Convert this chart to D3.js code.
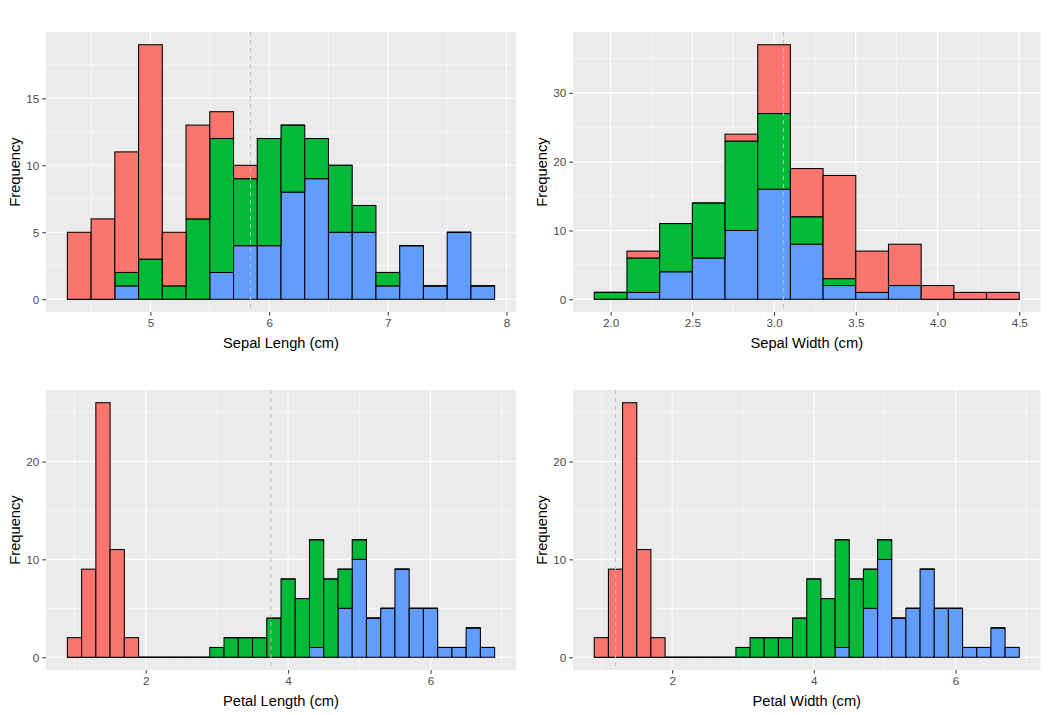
<!DOCTYPE html>
<html>
<head>
<meta charset="utf-8">
<script src="https://cdn.jsdelivr.net/npm/d3@7"></script>
<style>
  body { margin: 0; background: #fff; }
  svg { display: block; font-family: "Liberation Sans", Arial, sans-serif; }
  .tick text { fill: #4d4d4d; font-size: 11.7px; }
  .tick line { stroke: #333; }
</style>
</head>
<body>
<div id="chartArea"></div>
<script>
// species colours (ggplot defaults)
var species = ['setosa', 'versicolor', 'virginica'];
var colors = ['#F8766D', '#00BA38', '#619CFF'];

// sepal length, bin lower edges (width 0.2)
var sepalLengthBins = [4.3, 4.5, 4.7, 4.9, 5.1, 5.3, 5.5, 5.7, 5.9, 6.1, 6.3, 6.5, 6.7, 6.9, 7.1, 7.3, 7.5, 7.7];
var sepalLengthSetosa = [5, 6, 9, 16, 4, 7, 2, 1, 0, 0, 0, 0, 0, 0, 0, 0, 0, 0];
var sepalLengthVersicolor = [0, 0, 1, 3, 1, 6, 10, 5, 8, 5, 3, 5, 2, 1, 0, 0, 0, 0];
var sepalLengthVirginica = [0, 0, 1, 0, 0, 0, 2, 4, 4, 8, 9, 5, 5, 1, 4, 1, 5, 1];
var sepalLengthTicks = [5, 6, 7, 8];
var sepalLengthYTicks = [0, 5, 10, 15];
var sepalLengthMean = 5.843;

// sepal width
var sepalWidthBins = [1.9, 2.1, 2.3, 2.5, 2.7, 2.9, 3.1, 3.3, 3.5, 3.7, 3.9, 4.1, 4.3];
var sepalWidthSetosa = [0, 1, 0, 0, 1, 10, 7, 15, 6, 6, 2, 1, 1];
var sepalWidthVersicolor = [1, 5, 7, 8, 13, 11, 4, 1, 0, 0, 0, 0, 0];
var sepalWidthVirginica = [0, 1, 4, 6, 10, 16, 8, 2, 1, 2, 0, 0, 0];
var sepalWidthTicks = [2.0, 2.5, 3.0, 3.5, 4.0, 4.5];
var sepalWidthYTicks = [0, 10, 20, 30];
var sepalWidthMean = 3.057;

// petal length (the petal width panel shows the same bars)
var petalBins = [0.9, 1.1, 1.3, 1.5, 1.7, 1.9, 2.1, 2.3, 2.5, 2.7, 2.9, 3.1, 3.3, 3.5, 3.7,
                 3.9, 4.1, 4.3, 4.5, 4.7, 4.9, 5.1, 5.3, 5.5, 5.7, 5.9, 6.1, 6.3, 6.5, 6.7];
var petalSetosa = [2, 9, 26, 11, 2, 0, 0, 0, 0, 0, 0, 0, 0, 0, 0,
                   0, 0, 0, 0, 0, 0, 0, 0, 0, 0, 0, 0, 0, 0, 0];
var petalVersicolor = [0, 0, 0, 0, 0, 0, 0, 0, 0, 0, 1, 2, 2, 2, 4,
                       8, 6, 11, 8, 4, 2, 0, 0, 0, 0, 0, 0, 0, 0, 0];
var petalVirginica = [0, 0, 0, 0, 0, 0, 0, 0, 0, 0, 0, 0, 0, 0, 0,
                      0, 0, 1, 0, 5, 10, 4, 5, 9, 5, 5, 1, 1, 3, 1];
var petalTicks = [2, 4, 6];
var petalYTicks = [0, 10, 20];
var petalLengthMean = 3.758;
var petalWidthMean = 1.199;

var binWidth = 0.2;

var W = 1053, H = 715;
var svg = d3.select('#chartArea').append('svg')
    .attr('width', W)
    .attr('height', H);

function drawPanel(p) {
    var left = p.box[0], top = p.box[1], w = p.box[2], h = p.box[3];
    var g = svg.append('g')
        .attr('transform', 'translate(' + left + ', ' + top + ')');

    var lo = p.bins[0], hi = p.bins[p.bins.length - 1] + binWidth;
    var padX = (hi - lo) * 0.05;
    var xScale = d3.scaleLinear().domain([lo - padX, hi + padX]).range([0, w]);

    // stacked counts: virginica at bottom, setosa on top
    var rows = p.bins.map(function (b, i) {
        return { x0: b, setosa: p.counts[0][i], versicolor: p.counts[1][i], virginica: p.counts[2][i] };
    });
    var stack = d3.stack().keys(['virginica', 'versicolor', 'setosa'])(rows);
    var maxY = d3.max(rows, function (d) { return d.setosa + d.versicolor + d.virginica; });
    var yScale = d3.scaleLinear().domain([-maxY * 0.05, maxY * 1.05]).range([h, 0]);

    g.append('rect')
        .attr('width', w).attr('height', h)
        .attr('fill', '#ebebeb');

    // minor grid
    var xd = xScale.domain(), yd = yScale.domain();
    var xStep = p.xTicks[1] - p.xTicks[0], yStep = p.yTicks[1] - p.yTicks[0];
    var xMinor = [p.xTicks[0] - xStep / 2].concat(p.xTicks.map(function (t) { return t + xStep / 2; }))
        .filter(function (t) { return t >= xd[0] && t <= xd[1]; });
    var yMinor = [p.yTicks[0] - yStep / 2].concat(p.yTicks.map(function (t) { return t + yStep / 2; }))
        .filter(function (t) { return t >= yd[0] && t <= yd[1]; });

    g.selectAll('.xminor').data(xMinor).enter().append('line')
        .attr('x1', xScale).attr('x2', xScale).attr('y1', 0).attr('y2', h)
        .attr('stroke', '#fff').attr('stroke-width', 0.55);
    g.selectAll('.yminor').data(yMinor).enter().append('line')
        .attr('y1', yScale).attr('y2', yScale).attr('x1', 0).attr('x2', w)
        .attr('stroke', '#fff').attr('stroke-width', 0.55);
    g.selectAll('.xmajor').data(p.xTicks).enter().append('line')
        .attr('x1', xScale).attr('x2', xScale).attr('y1', 0).attr('y2', h)
        .attr('stroke', '#fff').attr('stroke-width', 1.1);
    g.selectAll('.ymajor').data(p.yTicks).enter().append('line')
        .attr('y1', yScale).attr('y2', yScale).attr('x1', 0).attr('x2', w)
        .attr('stroke', '#fff').attr('stroke-width', 1.1);

    // bars
    var layerColor = { setosa: colors[0], versicolor: colors[1], virginica: colors[2] };
    var layers = g.selectAll('.layer')
        .data(stack)
        .enter()
        .append('g')
        .attr('fill', function (d) { return layerColor[d.key]; });

    layers.selectAll('rect')
        .data(function (d) { return d.filter(function (s) { return s[1] > s[0]; }); })
        .enter()
        .append('rect')
        .attr('x', function (d) { return xScale(d.data.x0); })
        .attr('width', function (d) { return xScale(d.data.x0 + binWidth) - xScale(d.data.x0); })
        .attr('y', function (d) { return yScale(d[1]); })
        .attr('height', function (d) { return yScale(d[0]) - yScale(d[1]); })
        .attr('stroke', '#000')
        .attr('stroke-width', 1.05);

    // empty bins still leave their outline as a flat line
    layers.selectAll('line')
        .data(function (d) { return d.filter(function (s) { return s[1] === s[0]; }); })
        .enter()
        .append('line')
        .attr('x1', function (d) { return xScale(d.data.x0); })
        .attr('x2', function (d) { return xScale(d.data.x0 + binWidth); })
        .attr('y1', function (d) { return yScale(d[0]); })
        .attr('y2', function (d) { return yScale(d[0]); })
        .attr('stroke', '#000')
        .attr('stroke-width', 1.05);

    // mean line
    g.append('line')
        .attr('x1', xScale(p.mean)).attr('x2', xScale(p.mean))
        .attr('y1', 0).attr('y2', h)
        .attr('stroke', '#bebebe')
        .attr('stroke-width', 1.05)
        .attr('stroke-dasharray', '4,4');

    // axes
    var xAxis = d3.axisBottom(xScale).tickValues(p.xTicks).tickSize(3.7).tickPadding(3)
        .tickFormat(d3.format(p.fmt));
    g.append('g')
        .attr('transform', 'translate(0, ' + h + ')')
        .call(xAxis)
        .call(function (a) { a.select('.domain').remove(); });

    var yAxis = d3.axisLeft(yScale).tickValues(p.yTicks).tickSize(3.7).tickPadding(3)
        .tickFormat(d3.format('d'));
    g.append('g')
        .call(yAxis)
        .call(function (a) { a.select('.domain').remove(); });

    g.selectAll('.tick text').attr('font-size', 11.7).attr('font-family', null);

    g.append('text')
        .attr('x', w / 2)
        .attr('y', h + 36)
        .attr('text-anchor', 'middle')
        .attr('font-size', 14.7)
        .attr('fill', '#000')
        .text(p.title);

    g.append('text')
        .attr('transform', 'translate(' + (-26) + ', ' + (h / 2) + ') rotate(-90)')
        .attr('text-anchor', 'middle')
        .attr('font-size', 14.7)
        .attr('fill', '#000')
        .text('Frequency');
}

drawPanel({
    box: [46, 32, 470, 280],
    bins: sepalLengthBins,
    counts: [sepalLengthSetosa, sepalLengthVersicolor, sepalLengthVirginica],
    xTicks: sepalLengthTicks, yTicks: sepalLengthYTicks, fmt: 'd',
    mean: sepalLengthMean, title: 'Sepal Lengh (cm)'
});
drawPanel({
    box: [573, 32, 467.5, 280],
    bins: sepalWidthBins,
    counts: [sepalWidthSetosa, sepalWidthVersicolor, sepalWidthVirginica],
    xTicks: sepalWidthTicks, yTicks: sepalWidthYTicks, fmt: '.1f',
    mean: sepalWidthMean, title: 'Sepal Width (cm)'
});
drawPanel({
    box: [46, 390, 470, 280],
    bins: petalBins,
    counts: [petalSetosa, petalVersicolor, petalVirginica],
    xTicks: petalTicks, yTicks: petalYTicks, fmt: 'd',
    mean: petalLengthMean, title: 'Petal Length (cm)'
});
drawPanel({
    box: [573, 390, 467.5, 280],
    bins: petalBins,
    counts: [petalSetosa, petalVersicolor, petalVirginica],
    xTicks: petalTicks, yTicks: petalYTicks, fmt: 'd',
    mean: petalWidthMean, title: 'Petal Width (cm)'
});
</script>
</body>
</html>
